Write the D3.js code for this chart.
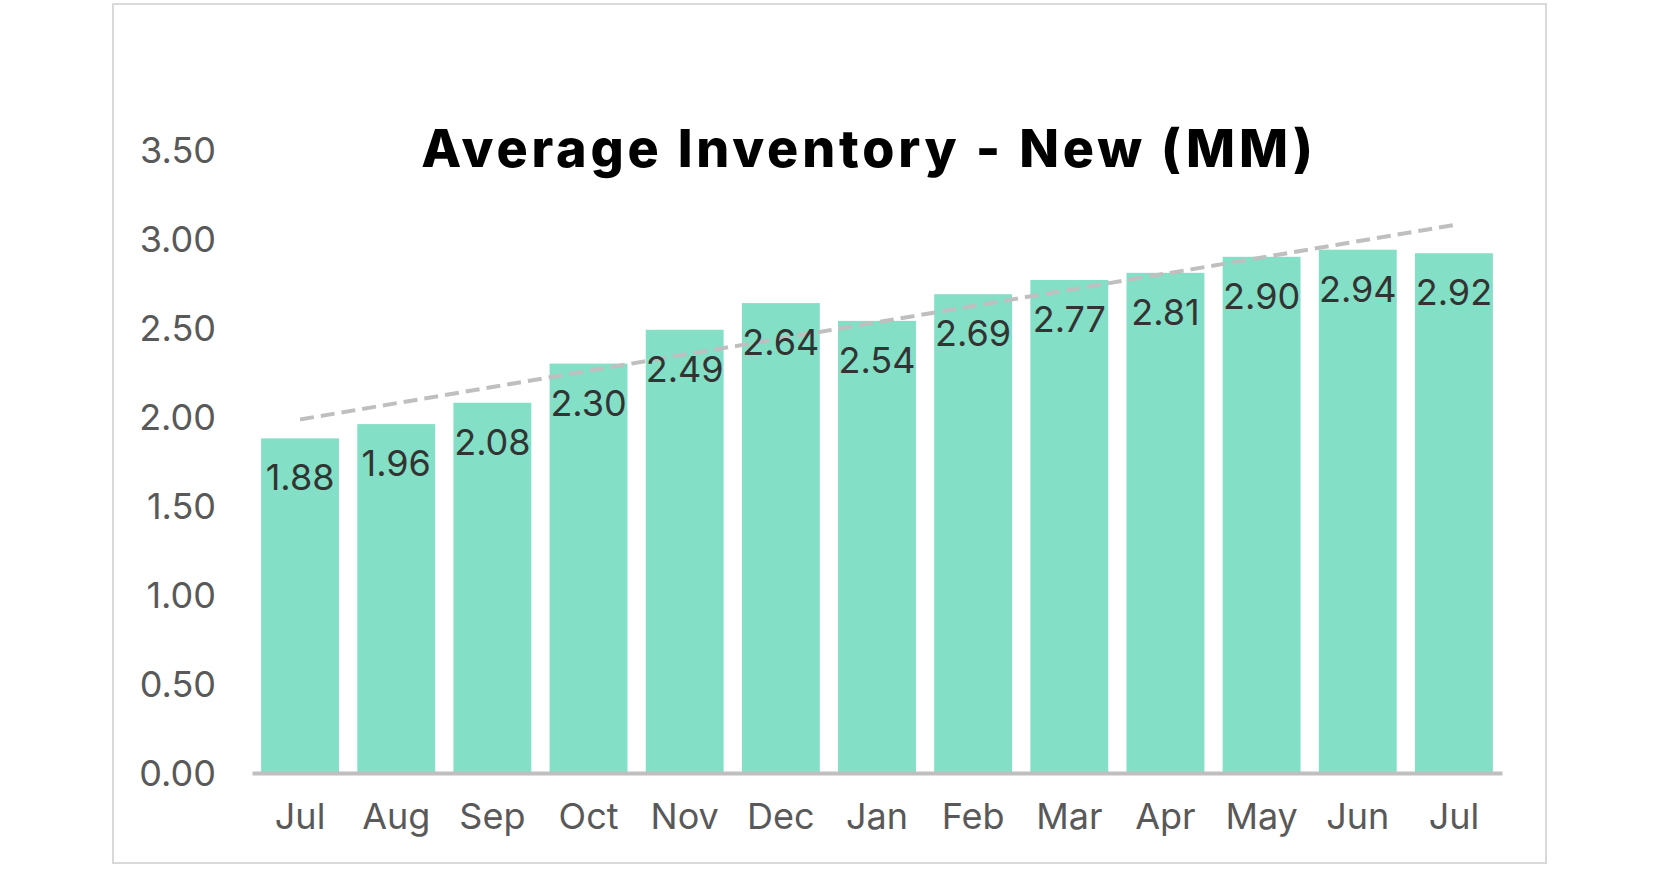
<!DOCTYPE html>
<html>
<head>
<meta charset="utf-8">
<script src="https://cdn.jsdelivr.net/npm/d3@7"></script>
<style>
  html, body { margin: 0; padding: 0; background: #fff; }
  svg { display: block; }
</style>
</head>
<body>
<svg id="chart" width="1662" height="871"></svg>
<script>
const months = ["Jul","Aug","Sep","Oct","Nov","Dec","Jan","Feb","Mar","Apr","May","Jun","Jul"];
const values = [1.88,1.96,2.08,2.30,2.49,2.64,2.54,2.69,2.77,2.81,2.90,2.94,2.92];
const yTicks = [0,0.5,1,1.5,2,2.5,3,3.5];
const title = "Average Inventory - New (MM)";

const svg = d3.select("#chart");
const font = "Inter, 'Open Sans', sans-serif";

// frame
svg.append("rect").attr("x",113).attr("y",4).attr("width",1433).attr("height",859)
  .attr("fill","#fff").attr("stroke","#d9d9d9").attr("stroke-width",2);

const keys = months.map((m,i)=>i);
const x = d3.scaleBand().domain(keys).range([252,1502]).paddingInner(0.19).paddingOuter(0.095);
const y = d3.scaleLinear().domain([0,3.5]).range([773,150]);

// y axis labels
const yAxis = d3.axisLeft(y).tickValues(yTicks).tickFormat(d3.format(".2f")).tickSize(0).tickPadding(0);
const gy = svg.append("g").attr("transform","translate(216,0)").call(yAxis);
gy.select(".domain").remove();
gy.selectAll("text").attr("font-family",font).attr("font-size",36).attr("fill","#595959").attr("dy","0.36em");

// bars
svg.append("g").selectAll("rect").data(values).join("rect")
  .attr("x",(d,i)=>x(i)).attr("width",x.bandwidth())
  .attr("y",d=>y(d)).attr("height",d=>y(0)-y(d))
  .attr("fill","#83dfc5");

// x axis
const xAxis = d3.axisBottom(x).tickFormat(i=>months[i]).tickSize(0).tickPadding(0);
const gx = svg.append("g").attr("transform","translate(0,773)").call(xAxis);
gx.select(".domain").attr("stroke","#bfbfbf").attr("stroke-width",4);
gx.selectAll("text").attr("font-family",font).attr("font-size",36).attr("fill","#595959").attr("dy","1.55em");

// trendline (linear regression of values)
const n = values.length;
const mx = d3.mean(keys), my = d3.mean(values);
const slope = d3.sum(keys,(k)=>(k-mx)*(values[k]-my)) / d3.sum(keys,k=>(k-mx)*(k-mx));
const icpt = my - slope*mx;
const trend = [0, n-1].map(k=>[x(k)+x.bandwidth()/2, y(icpt+slope*k)]);
svg.append("path").attr("d",d3.line()(trend))
  .attr("stroke","#bfbfbf").attr("stroke-width",4).attr("stroke-dasharray","14,7").attr("fill","none");

// data labels
svg.append("g").selectAll("text").data(values).join("text")
  .attr("x",(d,i)=>x(i)+x.bandwidth()/2).attr("y",d=>y(d)+52)
  .attr("text-anchor","middle").attr("font-family",font).attr("font-size",36)
  .attr("fill","#333").text(d=>d.toFixed(2));

// title
svg.append("text").attr("x",869).attr("y",167).attr("text-anchor","middle")
  .attr("font-family",font).attr("font-weight",800).attr("font-size",52)
  .attr("letter-spacing","3.8px")
  .attr("fill","#000").text(title);
</script>
</body>
</html>
